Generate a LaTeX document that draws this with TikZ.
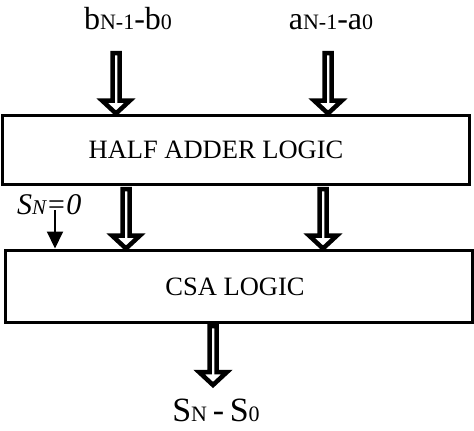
\documentclass[tikz,border=0pt]{standalone}
\usepackage{fontspec}
\setmainfont{Liberation Serif}
\usetikzlibrary{calc,arrows.meta}
\newcommand{\lblsize}{\fontsize{32}{32}\selectfont}
\newcommand{\sml}[1]{{\fontsize{22}{22}\selectfont #1}}
\newcommand{\blockarrow}[2]{%
  \draw[bigarrow] ($(#1)+(-3.5,0)$) -- ($(#2)+(-3.5,-13)$) -- ($(#2)+(-14,-13)$) -- (#2)
    -- ($(#2)+(14,-13)$) -- ($(#2)+(3.5,-13)$) -- ($(#1)+(3.5,0)$) -- cycle;}

\begin{document}
\begin{tikzpicture}[x=1pt,y=-1pt,
    box/.style={draw, line width=3pt, inner sep=0pt, minimum width=467pt},
    bigarrow/.style={line width=4.5pt, line join=miter},
    lbl/.style={inner sep=0pt, anchor=base}]
    \useasboundingbox (0,0) rectangle (474,431);
    % the two logic blocks
        \node (ha) at (235.5,149.5) [box, minimum height=69pt] {};
        \node (csa) at (238.5,286) [box, minimum height=72pt] {};
        \node (hatext) at (216,158) [lbl] {\fontsize{26.5}{26.5}\selectfont HALF ADDER LOGIC};
        \node (csatext) at (235,295) [lbl] {\fontsize{26.5}{26.5}\selectfont CSA LOGIC};

    % inputs and output
        \node (blab) at (128,29) [lbl] {\lblsize b\sml{N-1}-b\sml{0}};
        \node (alab) at (331,29) [lbl] {\lblsize a\sml{N-1}-a\sml{0}};
        \node (slab) at (216,421) [lbl] {\fontsize{34}{34}\selectfont S\sml{N}\,-\,S\sml{0}};
        \node (snlab) at (17,214) [lbl, anchor=base west] {\fontsize{30}{30}\selectfont\itshape S{\fontsize{21}{21}\selectfont N}=0};

        \coordinate (bin) at (116,53);
        \coordinate (ain) at (328,53);
        \coordinate (lmid) at (126,189);
        \coordinate (rmid) at (323,189);
        \coordinate (sout) at (213,326);
        \coordinate (stip) at (213,385);
        \coordinate (snin) at (55,210);
        \coordinate (btip) at (bin |- ha.north);
        \coordinate (atip) at (ain |- ha.north);
        \coordinate (ltip) at (lmid |- csa.north);
        \coordinate (rtip) at (rmid |- csa.north);

        \blockarrow{bin}{btip}
        \blockarrow{ain}{atip}
        \blockarrow{lmid}{ltip}
        \blockarrow{rmid}{rtip}
        \blockarrow{sout}{stip}

        \draw[line width=2pt, -{Triangle[length=17pt,width=16pt]}] (snin) to (snin |- csa.north);

  \end{tikzpicture}
\end{document}
